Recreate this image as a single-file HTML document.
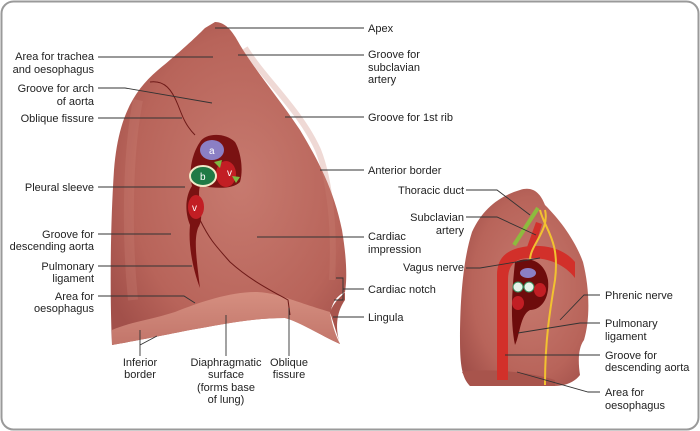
<!DOCTYPE html>
<html><head><meta charset="utf-8"><style>
html,body{margin:0;padding:0;background:#fff;}
svg{display:block;}
text{font-family:"Liberation Sans",sans-serif;font-size:11px;fill:#222;}
</style></head><body>
<svg width="700" height="431" viewBox="0 0 700 431" xmlns="http://www.w3.org/2000/svg">
<defs>
<radialGradient id="lg" cx="0.55" cy="0.5" r="0.65">
<stop offset="0" stop-color="#c77a6f"/><stop offset="0.7" stop-color="#b8645a"/><stop offset="1" stop-color="#a2504a"/>
</radialGradient>
<linearGradient id="band" x1="0" y1="0" x2="0" y2="1">
<stop offset="0" stop-color="#d58f80"/><stop offset="1" stop-color="#c2756a"/>
</linearGradient>
</defs>
<rect x="1.5" y="1.5" width="697" height="428" rx="12" fill="#fff" stroke="#9a9a9a" stroke-width="2"/>

<!-- big lung -->
<path d="M215,22 C225,22 232,30 240,45 C255,70 280,100 300,130 C318,160 334,190 342,230 C347,260 347,280 345,292 C336,296 330,305 330,320 C332,332 338,340 340,344 C320,335 300,322 285,318 C250,318 220,325 190,330 C160,336 140,340 112,345 C110,300 110,230 114,170 C118,120 132,92 158,70 C180,52 195,38 205,28 Z" fill="url(#lg)"/>
<path d="M138,100 C128,150 126,230 133,300" stroke="#cf897d" stroke-width="10" fill="none" opacity="0.25"/>
<path d="M245,48 C265,80 300,110 318,150 C330,180 335,230 332,280" stroke="#c98075" stroke-width="6" fill="none" opacity="0.3"/>
<!-- bottom diaphragmatic band -->
<path d="M112,330 C130,322 150,320 175,312 C200,302 230,292 255,292 C275,292 290,300 330,312 C332,325 336,336 340,344 C320,335 300,322 285,318 C250,318 220,325 190,330 C160,336 140,340 112,345 Z" fill="url(#band)"/>
<path d="M330,312 C335,300 342,296 345,292 L345,300 C338,310 334,325 340,344 Z" fill="#a8544c"/>
<!-- fissure -->
<path d="M150,82 C165,80 172,90 178,105 C182,115 185,125 195,135 M200,220 C210,240 215,245 230,262 C250,280 270,290 288,300 L290,315" stroke="#6e1a18" stroke-width="1" fill="none"/>
<!-- hilum -->
<path d="M200,142 C205,133 225,132 235,142 C240,150 244,168 240,182 C232,190 215,188 200,186 C196,200 206,215 198,228 C194,240 196,255 200,288 C193,270 188,245 190,225 C184,210 186,195 192,186 C188,170 193,152 200,142 Z" fill="#7a1212"/>
<ellipse cx="212" cy="150" rx="12" ry="10" fill="#8b7fc4"/>
<ellipse cx="226" cy="174" rx="10" ry="13" fill="#c21e24"/>
<ellipse cx="196" cy="207" rx="8" ry="12" fill="#c21e24"/>
<ellipse cx="203" cy="176" rx="13" ry="10" fill="#1f7a45" stroke="#f0eac8" stroke-width="2"/>
<path d="M214,162 L222,160 L220,168 Z M232,176 L240,177 L236,183 Z" fill="#7db843"/>
<text x="209" y="154" style="fill:#fff;font-size:10px">a</text>
<text x="200" y="180" style="fill:#fff;font-size:10px">b</text>
<text x="227" y="176" style="fill:#fff;font-size:10px">v</text>
<text x="192" y="211" style="fill:#fff;font-size:10px">v</text>

<!-- small lung -->
<path d="M520,190 C532,186 540,192 545,205 C560,220 575,240 583,262 C590,290 590,320 584,340 C578,348 578,362 580,375 C575,382 565,386 555,386 L470,386 C462,378 460,365 460,340 C460,300 463,260 472,232 C483,208 500,196 520,190 Z" fill="url(#lg)"/>
<path d="M462,372 C490,368 530,372 555,380 L555,386 L470,386 Z" fill="#a8544c"/>
<path d="M497,380 L497,275 C497,255 510,248 530,246 C550,245 565,250 575,262 L575,278 C565,265 550,258 530,258 C515,258 508,265 508,280 L508,380 Z" fill="#d2302a"/>
<path d="M526,250 L536,222 L542,224 L534,250 Z" fill="#d2302a"/>
<path d="M514,245 L538,208" stroke="#8dbb3e" stroke-width="4"/>
<path d="M545,210 C550,230 530,245 530,260 M540,210 C545,230 560,240 555,280 C550,310 545,340 545,385" stroke="#f2c230" stroke-width="2" fill="none"/>
<path d="M515,262 C530,255 545,262 548,280 C550,300 540,310 530,310 C520,315 520,335 515,345 C510,320 512,290 515,262 Z" fill="#6e0c0c"/>
<ellipse cx="528" cy="273" rx="8" ry="5" fill="#8b7fc4"/>
<circle cx="518" cy="287" r="5" fill="#e6f2ea" stroke="#3a8a5a"/>
<circle cx="529" cy="287" r="5" fill="#e6f2ea" stroke="#3a8a5a"/>
<ellipse cx="540" cy="290" rx="6" ry="7" fill="#c21e24"/>
<ellipse cx="518" cy="303" rx="6" ry="7" fill="#c21e24"/>

<!-- leader lines -->
<g stroke="#333" stroke-width="0.9" fill="none">
<path d="M98,57 H213 M98,88 H125 L212,103 M98,118 H182 M98,187 H185 M98,234 H171 M98,266 H192 M98,296 H184 L195,303 M140,356 V330 M140,345 L157,336 M226,356 V315 M289,356 V308"/>
<path d="M215,28 H364 M238,55 H364 M285,117 H364 M320,170 H364 M257,237 H364 M336,278 H343 V300 H334 M343,289 H364 M333,317 H364"/>
<path d="M466,190 H497 L530,215 M466,217 H497 L536,235 M466,268 H480 L540,258 M600,295 H584 L560,320 M600,323 H580 L518,333 M600,355 H505 M600,392 H588 L517,372"/>
</g>

<!-- labels left -->
<g text-anchor="end">
<text x="94" y="60">Area for trachea</text><text x="94" y="73">and oesophagus</text>
<text x="94" y="92">Groove for arch</text><text x="94" y="105">of aorta</text>
<text x="94" y="122">Oblique fissure</text>
<text x="94" y="191">Pleural sleeve</text>
<text x="94" y="238">Groove for</text><text x="94" y="250">descending aorta</text>
<text x="94" y="270">Pulmonary</text><text x="94" y="282">ligament</text>
<text x="94" y="300">Area for</text><text x="94" y="312">oesophagus</text>
<text x="464" y="194">Thoracic duct</text>
<text x="464" y="221">Subclavian</text><text x="464" y="234">artery</text>
<text x="464" y="271">Vagus nerve</text>
</g>
<g text-anchor="middle">
<text x="140" y="366">Inferior</text><text x="140" y="378">border</text>
<text x="226" y="366">Diaphragmatic</text><text x="226" y="378">surface</text><text x="226" y="391">(forms base</text><text x="226" y="403">of lung)</text>
<text x="289" y="366">Oblique</text><text x="289" y="378">fissure</text>
</g>
<text x="368" y="32">Apex</text>
<text x="368" y="58">Groove for</text><text x="368" y="71">subclavian</text><text x="368" y="83">artery</text>
<text x="368" y="121">Groove for 1st rib</text>
<text x="368" y="174">Anterior border</text>
<text x="368" y="240">Cardiac</text><text x="368" y="253">impression</text>
<text x="368" y="293">Cardiac notch</text>
<text x="368" y="321">Lingula</text>
<text x="605" y="299">Phrenic nerve</text>
<text x="605" y="327">Pulmonary</text><text x="605" y="340">ligament</text>
<text x="605" y="359">Groove for</text><text x="605" y="371">descending aorta</text>
<text x="605" y="396">Area for</text><text x="605" y="409">oesophagus</text>
</svg>
</body></html>
